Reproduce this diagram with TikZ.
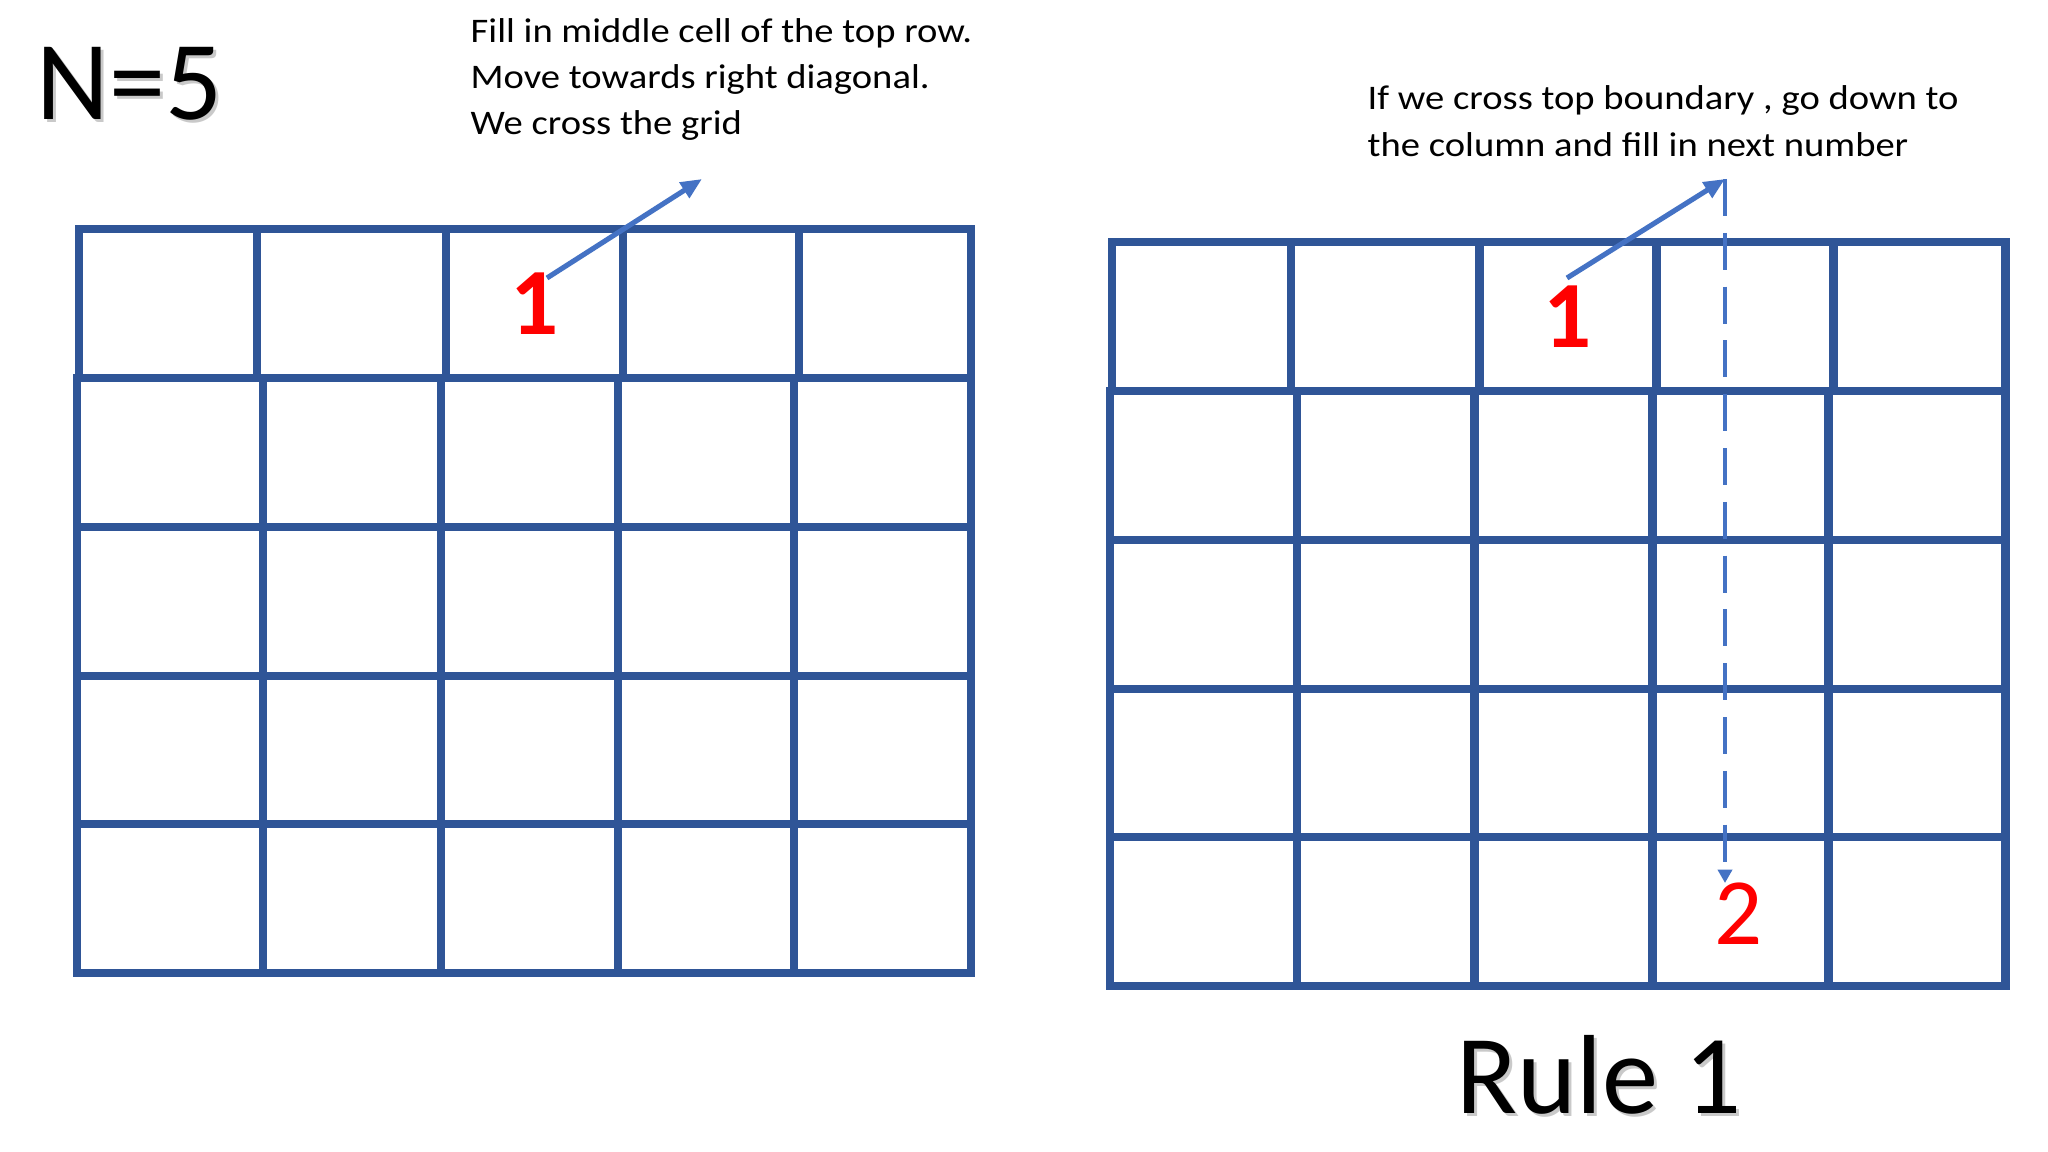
\documentclass[tikz,border=0pt]{standalone}
\usepackage{fontspec}
\setmainfont{Carlito}
\usetikzlibrary{arrows.meta}
\definecolor{gridblue}{HTML}{2F5597}
\definecolor{arrowblue}{HTML}{4472C4}
\definecolor{numred}{HTML}{FF0000}
\newcommand{\wide}[1]{\scalebox{1.12}[1]{#1}}
\tikzset{
  gridline/.style={draw=gridblue, line width=2.55pt, line cap=rect},
  note/.style={inner sep=0pt, anchor=base west, font=\fontsize{9.8}{11.5}\selectfont},
  title/.style={inner sep=0pt, anchor=base west, font=\fontsize{32}{36}\selectfont},
  titleshadow/.style={title, text=black!60, opacity=0.35},
  bignum/.style={inner sep=0pt, anchor=base, text=numred, font=\fontsize{27}{30}\selectfont},
  movearrow/.style={draw=arrowblue, line width=1.45pt, -{Triangle[length=6pt,width=5pt]}},
  wraparrow/.style={draw=arrowblue, line width=1.1pt, dash pattern=on 10.5pt off 4.8pt, -{Triangle[length=3.8pt,width=4pt]}}
}
\begin{document}
\begin{tikzpicture}[x=0.01cm, y=-0.01cm]
\useasboundingbox[fill=white] (0,0) rectangle (2048,1152);

% ---------- left grid ----------
\draw[gridline] (79,229) rectangle (971,378);
\foreach \x in {257,446,623,799} \draw[gridline] (\x,229) -- (\x,378);
\draw[gridline] (77,378) rectangle (971,973);
\foreach \y in {527,676,824} \draw[gridline] (77,\y) -- (971,\y);
\foreach \x in {263,441,618,794} \draw[gridline] (\x,378) -- (\x,973);

% ---------- right grid ----------
\draw[gridline] (1112,242) rectangle (2005,391);
\foreach \x in {1291,1479,1656,1833} \draw[gridline] (\x,242) -- (\x,391);
\draw[gridline] (1110,391) rectangle (2005,986);
\foreach \y in {540,689,837} \draw[gridline] (1110,\y) -- (2005,\y);
\foreach \x in {1297,1474,1652,1828} \draw[gridline] (\x,391) -- (\x,986);

% ---------- titles ----------
\node[titleshadow] at (39,123) {N=5};
\node[title] (ntitle) at (36,120) {N=5};
\node[titleshadow] at (1459,1116) {Rule 1};
\node[title] (rule) at (1456,1113) {Rule 1};

% ---------- notes ----------
\node[note] (l1) at (470,43) {\wide{Fill in middle cell of the top row.}};
\node[note] (l2) at (470,89) {\wide{Move towards right diagonal.}};
\node[note] (l3) at (470,135) {\wide{We cross the grid}};
\node[note] (r1) at (1367,110) {\wide{If we cross top boundary , go down to}};
\node[note] (r2) at (1367,157) {\wide{the column and fill in next number}};

% ---------- numbers ----------
\node[bignum, font=\fontsize{27}{30}\selectfont\bfseries] (oneL) at (535,335) {1};
\node[bignum, font=\fontsize{27}{30}\selectfont\bfseries] (oneR) at (1568,348) {1};
\node[bignum] (twoR) at (1739,944) {2};

% ---------- arrows ----------
\coordinate (startL) at (547,278);
\coordinate (tipL) at (702,179);
\coordinate (startR) at (1567,278);
\coordinate (tipR) at (1725,179);
\coordinate (endR) at (1725,883);
\draw[movearrow] (startL) -- (tipL);
\draw[movearrow] (startR) -- (tipR);
\draw[wraparrow] (tipR) -- (endR);
\end{tikzpicture}
\end{document}
